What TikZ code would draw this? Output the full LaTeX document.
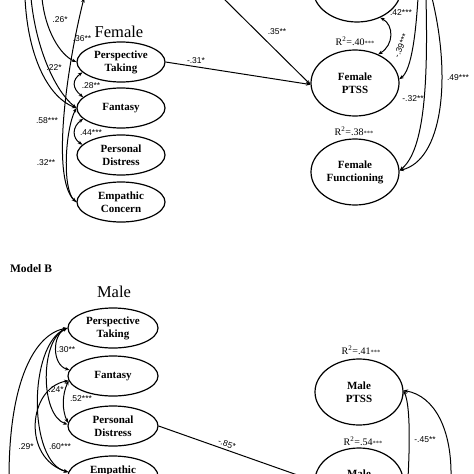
\documentclass[tikz,border=0pt]{standalone}
\usepackage{fontspec}
\setmainfont{Liberation Serif}
\newfontfamily\lsans{Liberation Sans}
\usetikzlibrary{shapes.geometric,arrows.meta}
\begin{document}
\begin{tikzpicture}[x=1pt,y=-1pt,
  >={Stealth[length=4.5pt,width=3.6pt]},
  lat/.style={ellipse,draw,line width=1.2pt,minimum width=88pt,minimum height=40pt,inner sep=0pt,align=center,font=\fontsize{11}{13}\selectfont\bfseries},
  big/.style={lat,minimum height=66pt},
  coef/.style={font=\lsans\fontsize{8.5}{9}\selectfont,inner sep=0pt},
  rsq/.style={font=\fontsize{10}{11}\selectfont,inner sep=0pt},
  conn/.style={line width=1pt},
  ttl/.style={font=\fontsize{16.5}{18}\selectfont,inner sep=0pt},
]
\useasboundingbox (0,0) rectangle (474,474);
\clip (0,0) rectangle (474,474);

% ---------- Model A (female) ----------
\node[ttl] (fTitle) at (119,32) {Female};
\node[lat] (fPT) at (121,62) {Perspective\\Taking};
\node[lat] (fF) at (121,108) {Fantasy};
\node[lat] (fPD) at (121,155) {Personal\\Distress};
\node[lat] (fEC) at (121,202) {Empathic\\Concern};
\node[big] (fTop) at (357,-11) {};
\node[big] (fPTSS) at (355,83) {Female\\PTSS};
\node[big] (fFunc) at (355,172) {Female\\Functioning};
\node[rsq] (fR1) at (355,41) {R\textsuperscript{2}=.40{\fontsize{6.5}{7}\selectfont ***}};
\node[rsq] (fR2) at (354,131) {R\textsuperscript{2}=.38{\fontsize{6.5}{7}\selectfont ***}};

\coordinate (tA) at (84,-2);
\coordinate (tB) at (42,-2);
\coordinate (tC) at (25,-2);
\coordinate (tD) at (31,-2);
\coordinate (tE) at (222,-3);
\coordinate (tF) at (418,-2);
\coordinate (tG) at (426,-2);
\coordinate (tH) at (432,-2);

\draw[conn,->] (fEC.180) .. controls (50,185) and (66,70) .. (tA);
\draw[conn,<->] (fF.180) .. controls (65,130) and (62,190) .. (fEC.180);
\draw[conn,->] (tB) .. controls (45,30) and (60,55) .. (fPT.180);
\draw[conn,->] (tC) .. controls (28,60) and (50,98) .. (fF.180);
\draw[conn,->] (tD) .. controls (36,50) and (56,92) .. (fF.180);
\draw[conn,<->] (fPT.195) .. controls (72,80) and (72,88) .. (fF.164);
\draw[conn,<->] (fF.196) .. controls (72,127) and (72,138) .. (fPD.165);
\draw[conn,->] (fPT.0) -- (fPTSS.182);
\draw[conn,->] (tE) -- (fPTSS.182);
\draw[conn,<->] (fTop.309) .. controls (394,25) and (394,45) .. (fPTSS.51);
\draw[conn,->] (tF) .. controls (416,30) and (412,70) .. (fPTSS.5);
\draw[conn,->] (tG) .. controls (428,80) and (425,150) .. (fFunc.2);
\draw[conn,->] (tH) .. controls (452,80) and (442,160) .. (fFunc.2);

\node[coef] (l1) at (60,20) {.26*};
\node[coef] (l2) at (82,39) {.36**};
\node[coef] (l3) at (54,68) {.22*};
\node[coef] (l4) at (91,86) {.28**};
\node[coef] (l5) at (47,121) {.58***};
\node[coef] (l6) at (91,133) {.44***};
\node[coef] (l7) at (46,163) {.32**};
\node[coef] (l8) at (196,61) {-.31*};
\node[coef] (l9) at (277,32) {.35**};
\node[coef] (l10) at (401,13) {.42***};
\node[coef,rotate=67] (l11) at (401,46) {-.39***};
\node[coef] (l12) at (458,78) {.49***};
\node[coef] (l13) at (413,99) {-.32**};

% ---------- Model B (male) ----------
\node[inner sep=0pt,font=\fontsize{11.5}{13}\selectfont\bfseries] (mModel) at (31,269) {Model B};
\node[ttl] (mTitle) at (114,292) {Male};
\node[lat,minimum width=90pt] (mPT) at (113,328) {Perspective\\Taking};
\node[lat,minimum width=90pt] (mF) at (113,376) {Fantasy};
\node[lat,minimum width=90pt] (mPD) at (113,426) {Personal\\Distress};
\node[lat,minimum width=90pt] (mEC) at (113,476) {Empathic\\Concern};
\node[big] (mPTSS) at (359,392) {Male\\PTSS};
\node[big] (mFunc) at (359,481) {Male\\Functioning};
\node[rsq] (mR1) at (361,350) {R\textsuperscript{2}=.41{\fontsize{6.5}{7}\selectfont ***}};
\node[rsq] (mR2) at (363,441) {R\textsuperscript{2}=.54{\fontsize{6.5}{7}\selectfont ***}};

\coordinate (bA) at (9,478);
\coordinate (bB) at (408,478);
\coordinate (bC) at (451,478);

\draw[conn,<->] (mPT.180) .. controls (52,335) and (52,365) .. (mF.172);
\draw[conn,<->] (mPT.180) .. controls (40,340) and (40,415) .. (mPD.178);
\draw[conn,<->] (mPT.180) .. controls (28,345) and (28,462) .. (mEC.175);
\draw[conn,<-] (mPT.180) .. controls (35,334) and (9,380) .. (bA);
\draw[conn,<->] (mF.186) .. controls (62,395) and (62,410) .. (mPD.176);
\draw[conn,<->] (mF.186) .. controls (28,388) and (22,458) .. (mEC.175);
\draw[conn,->] (mPD.0) -- (mFunc.180);
\draw[conn,->] (bB) .. controls (410,440) and (410,405) .. (mPTSS.2);
\draw[conn,->] (bC) .. controls (452,430) and (435,396) .. (mPTSS.2);

\node[coef] (m1) at (66,350) {.30**};
\node[coef] (m2) at (56,390) {.24*};
\node[coef] (m3) at (81,399) {.52***};
\node[coef] (m4) at (26,447) {.29*};
\node[coef] (m5) at (60,447) {.60***};
\node[coef,rotate=-19] (m6) at (227,444) {-.85*};
\node[coef] (m7) at (425,440) {-.45**};
\end{tikzpicture}
\end{document}
